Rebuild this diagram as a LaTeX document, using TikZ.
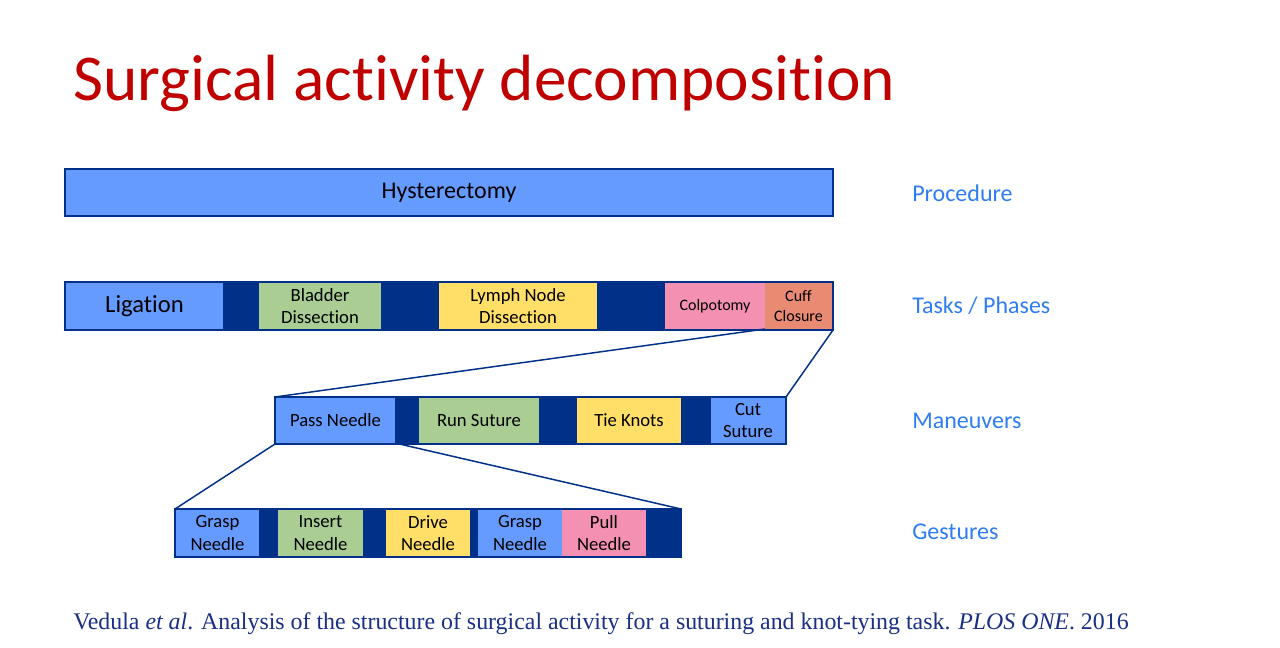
\documentclass[tikz,border=0pt]{standalone}
\usepackage{fontspec}
\setmainfont{Carlito}[Ligatures=NoCommon]
\newfontfamily\citefont{Liberation Serif}
\definecolor{segblue}{HTML}{659BFF}
\definecolor{navy}{HTML}{003087}
\definecolor{seggreen}{HTML}{A9CD93}
\definecolor{segyellow}{HTML}{FFDF68}
\definecolor{segpink}{HTML}{F490B2}
\definecolor{segsalmon}{HTML}{E98A72}
\definecolor{lblblue}{HTML}{2F7DF2}
\definecolor{titlered}{HTML}{C00000}
\definecolor{citenavy}{HTML}{1A2F85}
\newcommand{\mkseg}[8]{%
  \node[segbox, fill=#6, font=#8, minimum width={(#3-#2)*0.75pt}, minimum height={(#5-#4)*0.75pt}]
    (#1) at ({(#2+#3)/2},{(#4+#5)/2}) {#7};}
\newcommand{\mkrow}[5]{%
  \node[rowbox, minimum width={(#3-#2)*0.75pt}, minimum height={(#5-#4)*0.75pt}]
    (#1) at ({(#2+#3)/2},{(#4+#5)/2}) {};}
\newcommand{\segfont}{\fontsize{14}{17}\selectfont}
\newcommand{\smallsegfont}{\fontsize{12}{14.5}\selectfont}
\begin{document}
\begin{tikzpicture}[x=0.75pt,y=-0.75pt,
  segbox/.style={inner sep=0pt, outer sep=0pt, align=center, text=black},
  rowbox/.style={inner sep=0pt, outer sep=0pt, fill=navy, draw=navy, line width=1.5pt},
  levellabel/.style={anchor=west, text=lblblue, font=\fontsize{18}{21}\selectfont, inner sep=0pt},
  zoomline/.style={draw=navy, line width=1.1pt}]
\useasboundingbox[fill=white] (0,0) rectangle (1280,648);
% title
\node[anchor=base west, inner sep=0pt, text=titlered, font=\fontsize{49}{56}\selectfont] (title) at (73,101) {Surgical activity decomposition};
% procedure
\node[segbox, fill=segblue, draw=navy, line width=1.5pt, minimum width={768*0.75pt}, minimum height={47*0.75pt}, font=\fontsize{18}{21}\selectfont] (proc) at (449,192.5) {Hysterectomy};
% tasks
\mkrow{tasks}{65}{833}{282}{330}
\mkseg{lig}{66}{223}{283}{329}{segblue}{Ligation}{\fontsize{18.5}{22}\selectfont}
\mkseg{blad}{259}{381}{283}{329}{seggreen}{Bladder\\Dissection}{\segfont}
\mkseg{lymph}{439}{597}{283}{329}{segyellow}{Lymph Node\\Dissection}{\segfont}
\mkseg{colp}{665}{765}{283}{329}{segpink}{Colpotomy}{\smallsegfont}
\mkseg{cuff}{765}{832}{283}{329}{segsalmon}{Cuff\\Closure}{\smallsegfont}
% maneuvers
\mkrow{man}{275}{786}{397}{444}
\mkseg{pass}{276}{395}{398}{443}{segblue}{Pass Needle}{\segfont}
\mkseg{run}{419}{539}{398}{443}{seggreen}{Run Suture}{\segfont}
\mkseg{tie}{577}{681}{398}{443}{segyellow}{Tie Knots}{\segfont}
\mkseg{cut}{711}{785}{398}{443}{segblue}{Cut\\Suture}{\segfont}
% gestures
\mkrow{gest}{175}{681}{509}{557}
\mkseg{g1}{176}{259}{510}{556}{segblue}{Grasp\\Needle}{\segfont}
\mkseg{g2}{278}{363}{510}{556}{seggreen}{Insert\\Needle}{\segfont}
\mkseg{g3}{386}{470}{510}{556}{segyellow}{Drive\\Needle}{\segfont}
\mkseg{g4}{478}{562}{510}{556}{segblue}{Grasp\\Needle}{\segfont}
\mkseg{g5}{562}{646}{510}{556}{segpink}{Pull\\Needle}{\segfont}
% zoom lines
\draw[zoomline] (cuff.south west) -- (man.north west);
\draw[zoomline] (tasks.south east) -- (man.north east);
\draw[zoomline] (man.south west) -- (gest.north west);
\draw[zoomline] (pass.south east) -- (gest.north east);
% level labels
\node[levellabel] (lproc) at (912,193) {Procedure};
\node[levellabel] (ltask) at (912,306) {Tasks / Phases};
\node[levellabel] (lman) at (912,421) {Maneuvers};
\node[levellabel] (lgest) at (912,532) {Gestures};
% citation
\node[anchor=base west, inner sep=0pt, text=citenavy, font=\citefont\fontsize{17.9}{21}\selectfont] (cite) at (73,629)
  {Vedula \textit{et al}. Analysis of the structure of surgical activity for a suturing and knot-tying task. \textit{PLOS ONE}. 2016};
\end{tikzpicture}
\end{document}
